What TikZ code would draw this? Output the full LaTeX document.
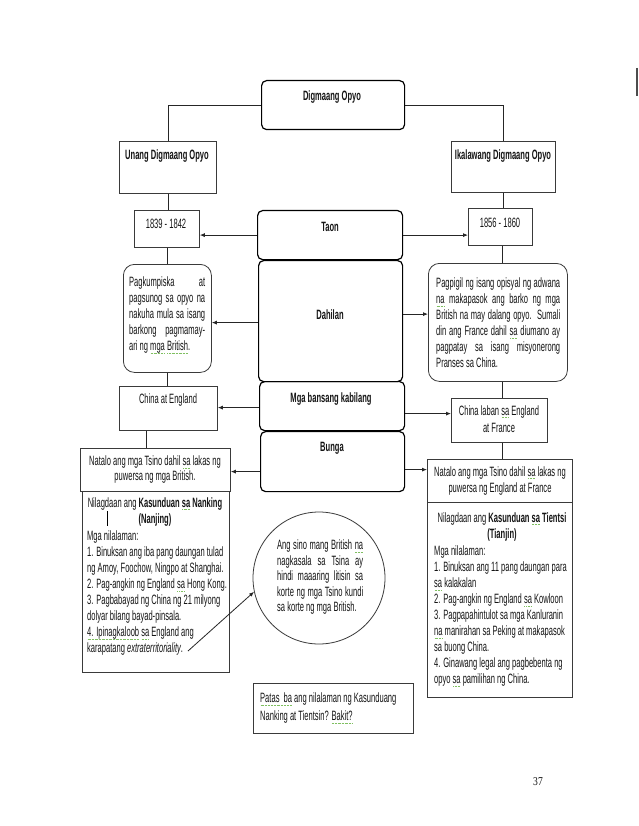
\documentclass[tikz,border=0pt]{standalone}
\usepackage{fontspec}
\setmainfont{Liberation Sans}[FakeStretch=0.56]
\newfontfamily\pagefont{Liberation Serif}[FakeStretch=0.8]
\usetikzlibrary{arrows.meta}
\definecolor{textc}{HTML}{141414}
\definecolor{boxc}{HTML}{3A3A3A}
\definecolor{sqg}{HTML}{7FBF60}
\newcommand\sqw[1]{\setbox0=\hbox{#1}\rlap{\color{sqg}\raisebox{-2.6pt}{\hbox to \wd0{\xleaders\hbox to 1.4pt{\hss\rule{0.8pt}{0.7pt}\hss}\hfill}}}\box0\relax}
\hyphenpenalty=10000
\tolerance=9999
\tikzset{
  rbox/.style={draw=black, line width=1.2pt, rounded corners=5pt, anchor=north west, inner sep=0pt},
  pbox/.style={draw=boxc, line width=0.8pt, anchor=north west, inner sep=0pt},
  sbox/.style={draw=boxc, line width=0.8pt, rounded corners=11pt, anchor=north west, inner sep=0pt},
  txt/.style={font=\fontsize{13.5}{16}\selectfont, text=textc, inner sep=0pt},
  btxt/.style={font=\fontsize{13.5}{16}\selectfont\bfseries, text=textc, inner sep=0pt},
  con/.style={draw=black!85, line width=0.8pt},
  arr/.style={con, -{Latex[length=5pt,width=4pt]}}
}
\begin{document}
\begin{tikzpicture}[x=1pt,y=-1pt]
\fill[white] (0,0) rectangle (638,826);
\useasboundingbox (0,0) rectangle (638,826);

% central column
\node[rbox, minimum width=143pt, minimum height=49pt] (dig) at (261,80) {};
\node[btxt] (digT) at (332,97) {Digmaang Opyo};
\node[rbox, minimum width=145pt, minimum height=49pt] (taon) at (257,210) {};
\node[btxt] (taonT) at (330,227) {Taon};
\node[rbox, minimum width=144pt, minimum height=121pt] (dah) at (258,260) {};
\node[btxt] (dahT) at (330,315) {Dahilan};
\node[rbox, minimum width=145pt, minimum height=49pt] (kab) at (259,381) {};
\node[btxt] (kabT) at (331,399) {Mga bansang kabilang};
\node[rbox, minimum width=144pt, minimum height=60pt] (bun) at (260,431) {};
\node[btxt] (bunT) at (332,448) {Bunga};

% left column
\node[pbox, minimum width=97pt, minimum height=52pt] (unang) at (119,141) {};
\node[btxt] (unangT) at (167,156) {Unang Digmaang Opyo};
\node[pbox, minimum width=65pt, minimum height=37pt] (y1) at (134,210) {};
\node[txt] (y1T) at (166,224) {1839 - 1842};
\node[sbox, minimum width=88pt, minimum height=108pt] (pagk) at (123,264) {};
\node[txt, anchor=north west, text width=76pt, align=justify] (pagkT) at (129,277)
  {Pagkumpiska at\linebreak pagsunog sa opyo na\linebreak nakuha mula sa isang\linebreak barkong pagmamay-\linebreak ari ng \sqw{mga} \sqw{British}.};
\node[pbox, minimum width=98pt, minimum height=44pt] (cae) at (119,386) {};
\node[txt] (caeT) at (168,400) {China at England};
\node[pbox, minimum width=150pt, minimum height=43pt] (nat1) at (80,448) {};
\node[txt, align=center, font=\fontsize{13.5}{15}\selectfont] (nat1T) at (155,470)
  {Natalo ang mga Tsino dahil \sqw{sa} lakas ng\\puwersa ng mga British.};
\node[pbox, minimum width=147pt, minimum height=181pt] (nank) at (82,491) {};
\node[txt, align=center] (nankH) at (155,512)
  {Nilagdaan ang \textbf{Kasunduan \sqw{sa} Nanking}\\\textbf{(Nanjing)}};
\node[txt, anchor=north west, align=left] (nankL) at (87,531)
  {Mga nilalaman:\\
   1. Binuksan ang iba pang daungan tulad\\
   ng Amoy, Foochow, Ningpo at Shanghai.\\
   2. Pag-angkin ng England \sqw{sa} Hong Kong.\\
   3. Pagbabayad ng China ng 21 milyong\\
   dolyar bilang bayad-pinsala.\\
   \sqw{4. Ipinagkaloob} \sqw{sa} England ang\\
   karapatang \textit{extraterritoriality}.};
\coordinate (ext) at (188,651);
\draw[line width=0.9pt] (107,511) -- (107,526);

% right column
\node[pbox, minimum width=104pt, minimum height=51pt] (ikal) at (451,141) {};
\node[btxt] (ikalT) at (503,156) {Ikalawang Digmaang Opyo};
\node[pbox, minimum width=64pt, minimum height=37pt] (y2) at (468,208) {};
\node[txt] (y2T) at (500,223) {1856 - 1860};
\node[sbox, minimum width=139pt, minimum height=118pt] (pagp) at (428,263) {};
\node[txt, anchor=north west, text width=124pt, align=justify] (pagpT) at (436,278)
  {Pagpigil ng isang opisyal ng adwana\linebreak \sqw{na} makapasok ang barko ng mga\linebreak British na may dalang opyo.\ \ Sumali\linebreak din ang France dahil \sqw{sa} diumano ay\linebreak pagpatay sa isang misyonerong\linebreak Pranses sa China.};
\node[pbox, minimum width=96pt, minimum height=44pt] (clf) at (451,398) {};
\node[txt, align=center, font=\fontsize{13.5}{17}\selectfont] (clfT) at (499,419)
  {China laban \sqw{sa} England\\at France};
\node[pbox, minimum width=145pt, minimum height=43pt] (nat2) at (427,459) {};
\node[txt, align=center] (nat2T) at (500,481)
  {Natalo ang mga Tsino dahil \sqw{sa} lakas ng\\puwersa ng England at France};
\node[pbox, minimum width=145pt, minimum height=195pt] (tien) at (427,502) {};
\node[txt, align=center] (tienH) at (502,527)
  {Nilagdaan ang \textbf{Kasunduan \sqw{sa} Tientsi}\\\textbf{(Tianjin)}};
\node[txt, anchor=north west, align=left] (tienL) at (434,546)
  {Mga nilalaman:\\
   1. Binuksan ang 11 pang daungan para\\
   \sqw{sa} kalakalan\\
   2. Pag-angkin ng England \sqw{sa} Kowloon\\
   3. Pagpapahintulot sa mga Kanluranin\\
   \sqw{na} manirahan sa Peking at makapasok\\
   sa buong China.\\
   4. Ginawang legal ang pagbebenta ng\\
   opyo \sqw{sa} pamilihan ng China.};

% circle
\node[circle, draw=boxc, line width=0.8pt, minimum size=132pt, inner sep=0pt] (circ) at (319,578) {};
\node[txt, anchor=north west, text width=86pt, align=justify, font=\fontsize{13.5}{15.5}\selectfont] (circT) at (277,540)
  {Ang sino mang British \sqw{na}\linebreak nagkasala sa Tsina ay\linebreak hindi maaaring litisin sa\linebreak korte ng mga Tsino kundi\linebreak sa korte ng mga British.};

% question box
\node[pbox, minimum width=160pt, minimum height=50pt] (patas) at (253,683) {};
\node[txt, anchor=north west, align=left, font=\fontsize{13.5}{18}\selectfont] (patasT) at (260,693)
  {\sqw{Patas\ \ ba} ang nilalaman ng Kasunduang\\Nanking at Tientsin? \sqw{Bakit?}};

% page number and edge mark
\node[font=\pagefont\fontsize{12}{14}\selectfont, text=textc, inner sep=0pt] (pg) at (538,782) {37};
\draw[line width=1.6pt, black!70] (637,68) -- (637,96);

% connectors
\draw[con] (dig.west) -| (unang.north);
\draw[con] (dig.east) -| (ikal.north);
\draw[con] (unang.south) -- (unang.south |- y1.north);
\draw[con] (y1.south) -- (y1.south |- pagk.north);
\draw[con] (pagk.south) -- (pagk.south |- cae.north);
\draw[con] ([xshift=-22pt]cae.south) -- ([xshift=-22pt]cae.south |- nat1.north);
\draw[con] (ikal.south) -- (ikal.south |- y2.north);
\draw[con] ([xshift=2pt]y2.south) -- ([xshift=2pt]y2.south |- pagp.north);
\draw[con] ([xshift=3pt]clf.north |- pagp.south) -- ([xshift=3pt]clf.north);
\draw[con] ([xshift=3pt]clf.south) -- ([xshift=3pt]clf.south |- nat2.north);

\draw[arr] (taon.west) -- (taon.west -| y1.east);
\draw[arr] (taon.east) -- (taon.east -| y2.west);
\draw[arr] ([yshift=-1.5pt]dah.west) -- ([yshift=-1.5pt]dah.west -| pagk.east);
\draw[arr] ([yshift=7pt]dah.east) -- ([yshift=7pt]dah.east -| pagp.west);
\draw[arr] ([yshift=-1.5pt]kab.west) -- ([yshift=-1.5pt]kab.west -| cae.east);
\draw[arr] ([yshift=-7.5pt]kab.east) -- ([yshift=-7.5pt]kab.east -| clf.west);
\draw[arr] ([yshift=-10pt]bun.west) -- ([yshift=-10pt]bun.west -| nat1.east);
\draw[arr] ([yshift=-8pt]bun.east) -- ([yshift=-8pt]bun.east -| nat2.west);
\draw[arr] (ext) -- (circ.192);
\end{tikzpicture}
\end{document}
